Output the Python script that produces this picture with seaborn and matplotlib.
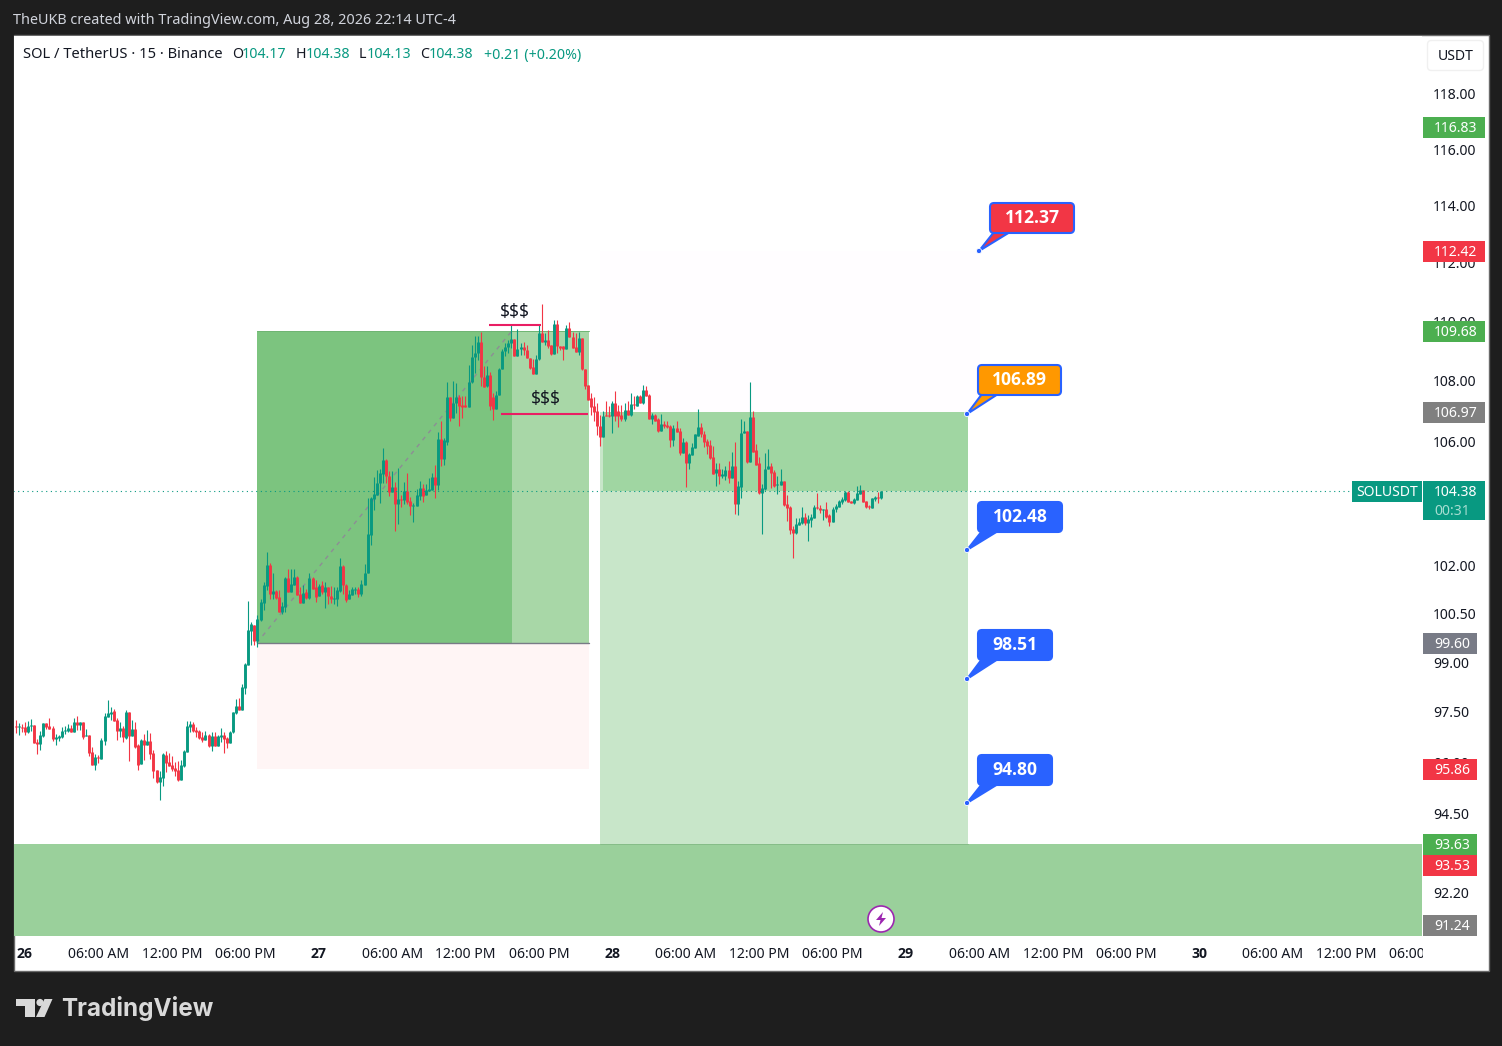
import numpy as np
import pandas as pd
import seaborn as sns
import matplotlib
matplotlib.use("Agg")
import matplotlib.pyplot as plt
from matplotlib.patches import Rectangle, FancyBboxPatch, Polygon, Circle
from matplotlib.transforms import Affine2D

opens = [
97.07,97.05,97.06,97.05,96.90,97.08,97.11,96.60,96.55,96.78,
97.17,97.08,97.02,96.70,96.72,96.75,96.93,96.93,97.02,96.90,
97.20,97.11,97.20,96.78,96.81,96.30,95.91,96.15,96.09,96.64,
97.36,97.44,97.53,97.26,96.93,97.02,96.72,97.50,96.78,96.99,
96.51,95.94,96.66,96.51,96.63,96.27,95.76,95.40,95.52,96.21,
96.00,95.91,95.82,95.76,95.46,95.88,96.30,97.05,97.14,96.96,
96.93,96.75,96.66,96.81,96.48,96.78,96.48,96.75,96.81,96.72,
96.57,96.90,97.47,97.68,97.56,98.22,98.92,99.97,100.16,99.67,
100.32,100.84,101.36,102.03,101.11,101.20,101.02,100.56,100.71,101.60,
101.17,101.39,101.66,101.11,100.84,101.17,100.99,101.63,101.32,101.05,
101.39,101.17,101.32,101.05,100.96,100.96,101.20,102.00,101.39,100.96,
101.08,101.24,101.28,101.11,101.39,101.76,102.96,104.12,104.25,104.64,
104.93,105.38,104.86,104.35,104.51,103.96,104.12,104.09,104.38,104.06,
103.90,103.90,104.22,104.48,104.25,104.38,104.41,104.83,104.57,106.08,
105.41,105.98,107.46,106.76,107.26,107.46,107.20,107.20,107.11,107.96,
108.80,108.92,109.30,108.12,107.81,108.20,107.46,107.07,107.51,108.39,
109.00,109.13,109.26,109.40,108.83,109.06,109.13,109.03,108.77,108.47,
108.23,108.73,109.60,109.30,109.37,109.20,108.90,109.90,109.17,109.17,
109.06,109.76,109.46,109.13,108.97,109.43,108.40,107.87,107.43,107.17,
107.00,106.50,106.13,106.87,106.87,106.83,107.27,107.00,106.87,106.73,
107.03,106.87,107.23,107.17,107.50,107.27,107.70,107.53,106.72,106.85,
106.72,106.32,106.55,106.52,106.49,106.03,106.42,106.32,105.60,105.96,
105.28,105.54,105.77,106.16,106.45,106.22,106.00,105.86,105.47,104.95,
105.11,104.88,104.88,105.05,104.79,105.18,103.97,104.52,106.26,106.32,
105.31,106.78,105.70,105.28,104.33,104.46,105.08,105.18,105.01,104.59,
104.59,104.69,103.97,103.87,103.15,103.05,103.28,103.35,103.54,103.35,
103.44,103.51,103.87,103.84,103.77,103.80,103.61,103.38,103.80,103.87,
104.03,104.10,104.36,104.07,104.00,104.10,104.30,104.43,104.07,103.90,
103.84,104.13,104.20,104.17]

closes = [
97.05,97.07,97.02,96.90,97.08,97.10,96.56,96.55,96.81,97.17,
97.05,96.99,96.69,96.74,96.78,96.93,96.96,97.02,96.90,97.20,
97.11,97.20,96.75,96.81,96.27,95.91,96.15,96.12,96.66,97.38,
97.47,97.50,97.23,96.93,97.02,96.75,97.50,96.78,96.99,96.45,
95.91,96.66,96.51,96.63,96.24,95.73,95.40,95.55,96.24,95.97,
95.88,95.79,95.73,95.46,95.91,96.33,97.08,97.14,96.93,96.90,
96.72,96.66,96.81,96.48,96.78,96.48,96.78,96.81,96.69,96.57,
96.90,97.50,97.68,97.56,98.25,98.94,100.00,100.19,99.67,100.34,
100.87,101.39,102.03,101.11,101.20,100.99,100.56,100.74,101.60,101.17,
101.42,101.66,101.08,100.84,101.14,100.99,101.63,101.28,101.02,101.36,
101.17,101.32,101.05,100.96,100.99,101.24,102.00,101.39,100.93,101.11,
101.28,101.28,101.11,101.42,101.76,103.00,104.15,104.28,104.64,104.96,
105.38,104.86,104.35,104.51,103.96,104.12,104.09,104.38,104.03,103.90,
103.93,104.25,104.48,104.22,104.41,104.45,104.83,104.57,106.08,105.41,
106.03,107.46,106.76,107.26,107.46,107.15,107.12,107.11,107.96,108.80,
108.92,109.30,108.12,107.79,108.20,107.15,107.07,107.51,108.39,109.00,
109.13,109.26,109.40,108.83,109.06,109.13,109.03,108.77,108.43,108.23,
108.73,109.60,109.30,109.37,109.17,108.90,109.90,109.17,109.10,109.06,
109.76,109.46,109.10,108.97,109.43,108.40,107.83,107.37,107.13,106.97,
106.50,106.13,106.83,106.83,106.83,107.27,106.83,106.83,106.73,107.03,
106.87,107.23,107.20,107.50,107.27,107.70,107.50,106.72,106.85,106.65,
106.32,106.55,106.49,106.45,106.03,106.42,106.29,105.60,105.96,105.28,
105.57,105.80,106.22,106.45,106.22,105.96,105.83,105.44,104.92,105.11,
104.88,104.92,105.05,104.79,105.18,103.97,104.56,106.26,106.32,105.31,
106.78,105.64,105.21,104.33,104.49,105.11,105.18,104.98,104.56,104.62,
104.69,103.94,103.84,103.12,103.05,103.31,103.38,103.54,103.35,103.48,
103.54,103.87,103.84,103.77,103.80,103.54,103.38,103.80,103.90,104.07,
104.13,104.36,104.03,104.00,104.13,104.33,104.43,104.03,103.87,103.87,
104.16,104.20,104.16,104.38]

highs = [
97.26,97.18,97.14,97.20,97.23,97.29,97.11,96.69,96.93,97.17,
97.17,97.32,97.08,96.84,96.81,97.05,97.08,97.14,97.11,97.32,
97.38,97.21,97.20,96.99,96.81,96.45,96.24,96.21,96.72,97.46,
97.86,97.65,97.59,97.32,97.20,97.08,97.56,97.50,97.26,97.20,
96.54,96.69,96.84,96.96,96.87,96.36,95.76,95.73,96.27,96.33,
96.27,96.18,96.00,96.03,96.06,96.36,97.23,97.23,97.20,97.05,
96.96,96.90,96.93,96.84,96.90,96.90,96.81,97.02,96.90,96.75,
96.93,97.50,97.89,97.92,98.34,98.97,100.90,100.25,100.16,100.47,
100.96,101.48,102.42,102.09,101.77,101.24,101.24,100.87,101.66,101.91,
101.91,101.91,101.69,101.32,101.39,101.28,101.78,101.66,101.55,101.42,
101.51,101.48,101.32,101.36,101.32,101.32,102.25,102.03,101.42,101.25,
101.32,101.32,101.32,101.55,102.06,104.15,104.18,104.83,105.05,105.09,
105.77,105.41,105.02,105.02,104.67,105.12,104.25,104.67,104.96,104.19,
104.00,104.45,104.70,104.60,104.60,104.80,104.96,105.22,106.31,106.67,
106.10,107.94,107.46,107.98,107.92,107.53,107.50,107.50,108.53,109.20,
109.50,109.50,109.63,108.50,108.50,108.28,107.59,107.64,108.42,109.05,
109.25,109.37,109.92,109.40,109.75,109.25,109.30,109.20,108.77,108.73,
108.87,109.92,110.59,109.59,109.70,109.20,110.03,110.03,109.17,109.17,
109.86,109.98,109.64,109.59,109.64,109.43,108.40,107.87,107.59,107.46,
107.26,106.87,107.00,107.31,107.15,107.31,107.64,107.20,107.20,107.26,
107.31,107.59,107.48,107.53,107.53,107.87,107.83,107.57,106.93,106.88,
106.77,106.88,106.68,106.68,106.52,106.52,106.65,106.44,106.09,106.00,
105.63,105.93,106.22,107.07,106.61,106.32,106.06,106.03,105.83,105.28,
105.28,105.08,105.18,105.37,105.64,105.96,104.72,106.72,106.68,106.32,
107.96,107.00,105.90,105.50,104.62,105.60,105.73,105.28,105.05,104.88,
105.11,104.72,104.26,103.90,103.25,103.51,103.51,103.87,103.67,103.61,
103.64,103.94,104.33,103.94,103.80,104.03,103.64,103.87,103.97,104.10,
104.20,104.39,104.39,104.07,104.16,104.56,104.59,104.43,104.07,103.94,
104.16,104.23,104.36,104.38]

lows = [
96.86,96.81,96.90,96.82,96.86,96.94,96.56,96.24,96.36,96.74,
96.98,96.99,96.64,96.51,96.64,96.72,96.84,96.90,96.90,96.90,
96.96,96.96,96.69,96.78,96.18,95.91,95.76,95.97,96.09,96.51,
97.36,97.26,97.23,96.66,96.75,96.60,96.69,96.03,96.78,96.42,
95.76,95.94,96.06,96.51,96.09,95.52,95.37,94.89,95.28,95.70,
95.88,95.73,95.58,95.43,95.46,95.85,96.30,96.90,96.90,96.75,
96.69,96.60,96.66,96.45,96.33,96.48,96.48,96.60,96.27,96.42,
96.57,96.87,97.44,97.56,97.56,98.04,98.92,99.54,99.54,99.48,
100.29,100.62,101.24,100.96,100.96,100.96,100.56,100.50,100.56,101.17,
101.17,101.39,101.08,100.84,100.84,100.96,100.96,101.28,100.87,101.05,
101.11,100.69,100.81,100.84,100.81,100.74,101.17,101.11,100.87,100.96,
101.08,101.11,101.02,101.05,101.39,101.76,102.67,103.77,104.25,103.99,
104.64,104.64,104.22,104.35,103.10,103.33,103.87,103.96,103.96,103.60,
103.40,103.90,104.09,104.03,104.25,104.38,104.41,104.15,104.41,105.19,
105.22,105.87,106.67,106.76,106.92,106.50,106.76,107.11,107.11,107.92,
108.26,108.70,107.81,107.79,107.79,107.03,106.70,107.07,107.51,108.39,
108.81,108.92,109.09,108.81,108.83,108.87,108.87,108.75,108.40,108.23,
108.23,108.70,109.30,109.20,109.09,108.87,108.90,108.92,109.03,108.68,
109.06,109.46,109.10,108.97,108.87,108.37,107.72,107.37,106.87,106.65,
106.20,105.84,106.13,106.83,106.81,106.26,106.65,106.46,106.65,106.65,
106.87,106.83,107.06,107.17,107.26,107.23,107.50,106.72,106.55,106.65,
106.29,106.32,106.44,106.44,105.80,105.83,106.29,105.54,105.60,104.52,
105.11,105.54,105.77,106.16,106.13,105.80,105.57,105.41,104.92,104.56,
104.62,104.79,104.75,104.65,104.79,103.64,103.61,104.16,106.26,105.28,
105.31,105.64,105.21,104.30,102.99,104.43,105.08,104.49,104.52,104.30,
104.59,103.90,103.41,102.99,102.24,102.99,103.28,103.31,103.28,102.79,
103.22,103.51,103.80,103.67,103.44,103.51,103.25,103.38,103.71,103.87,
103.97,104.07,104.03,104.00,103.97,104.10,104.30,104.03,103.84,103.80,
103.84,104.07,104.00,104.13]

y_ticks = [118.0, 116.0, 114.0, 112.0, 110.0, 108.0, 106.0, 102.0, 100.5, 99.0, 97.5, 96.0, 94.5, 92.2]
time_ticks = ["26", "06:00 AM", "12:00 PM", "06:00 PM", "27", "06:00 AM", "12:00 PM", "06:00 PM",
              "28", "06:00 AM", "12:00 PM", "06:00 PM", "29", "06:00 AM", "12:00 PM", "06:00 PM",
              "30", "06:00 AM", "12:00 PM", "06:00 AM"]
last_price = 104.38

UP, DOWN = "#089981", "#f23645"
BLUE = "#2962ff"
W, H = 1502, 1046
BOLD = "Open Sans"

sns.set_theme(style="white")
plt.rcParams["font.family"] = ["Noto Sans", "DejaVu Sans"]

fig = plt.figure(figsize=(W / 100, H / 100), dpi=100, facecolor="#1e1e1e")
px = Affine2D().scale(1 / W, -1 / H).translate(0, 1) + fig.transFigure

fig.add_artist(Rectangle((13.5, 34.5), 1475, 936, transform=px, facecolor="white",
                         edgecolor="#6a6a6a", linewidth=1, zorder=-1))

ax = fig.add_axes([14 / W, 1 - 936 / H, (1422 - 14) / W, (936 - 36) / H], facecolor="white")
ax.set_yscale("log")

n = len(closes)
idx = np.arange(n)
direction = np.where(np.array(closes) >= np.array(opens), "up", "down")
wicks = pd.DataFrame({"candle": np.r_[idx, idx], "x": np.r_[idx, idx],
                      "price": np.r_[highs, lows], "dir": np.r_[direction, direction]})
bodies = pd.DataFrame({"candle": np.r_[idx, idx], "x": np.r_[idx, idx],
                       "price": np.r_[opens, closes], "dir": np.r_[direction, direction]})
wicks = wicks.sort_values("candle", kind="stable")
bodies = bodies.sort_values("candle", kind="stable")
palette = {"up": UP, "down": DOWN}
sns.lineplot(data=wicks, x="x", y="price", units="candle", estimator=None, hue="dir", palette=palette,
             sort=False, legend=False, linewidth=0.8, solid_capstyle="butt", zorder=4, ax=ax)
sns.lineplot(data=bodies, x="x", y="price", units="candle", estimator=None, hue="dir", palette=palette,
             sort=False, legend=False, linewidth=2.1, solid_capstyle="butt", zorder=4, ax=ax)

ax.set_xlim(-0.6, 459.7)
ax.set_ylim(90.98, 120.13)
ax.set_xlabel("")
ax.set_ylabel("")
for s in ax.spines.values():
    s.set_visible(False)
ax.grid(False)


def zone(x0, x1, p0, p1, color, z=1, **kw):
    ax.add_patch(Rectangle((x0, p0), x1 - x0, p1 - p0, facecolor=color, edgecolor="none", zorder=z, **kw))


# position tools and zones (candle index, price)
zone(190.9, 315.2, 106.97, 112.42, "#fffdff")
zone(78.8, 187.4, 95.80, 99.60, "#fff5f5")
zone(78.8, 187.4, 99.60, 109.68, "#a8d7a7")
zone(78.8, 162.2, 99.60, 109.68, "#7cc47f", z=1.1)
zone(191.0, 311.3, 93.60, 106.97, "#c8e6c9")
zone(192.0, 311.3, 104.38, 106.97, "#a0d6a2", z=1.1)
zone(-1, 460, 90.9, 93.60, "#9ad09b", z=1.2)
ax.plot([78.8, 187.4], [99.60, 99.60], color="#787b86", lw=1, zorder=2)
ax.plot([78.8, 187.4], [109.68, 109.68], color="#6fb573", lw=0.7, zorder=2)
ax.plot([191.0, 311.3], [93.60, 93.60], color="#86bd88", lw=0.7, zorder=2)
ax.plot([78.8, 162.2], [99.60, 109.68], color="#8d8d95", lw=1, ls=(0, (3, 3.5)), zorder=3)

# last price line
ax.plot([-1, 437], [last_price, last_price], color=UP, lw=0.8, ls=(0, (1, 3.2)), zorder=5)

# liquidity marks
ax.plot([154.6, 171.6], [109.87, 109.87], color="#e91e63", lw=1.5, zorder=5, solid_capstyle="butt")
ax.plot([158.5, 186.9], [106.9, 106.9], color="#e91e63", lw=1.5, zorder=5, solid_capstyle="butt")
ax.text(163.3, 110.33, "$$$", ha="center", va="center", fontsize=12.5, color="#131722", zorder=6)
ax.text(173.4, 107.38, "$$$", ha="center", va="center", fontsize=12.5, color="#131722", zorder=6)

# axes ticks
ax.yaxis.tick_right()
ax.set_yticks(y_ticks)
ax.set_yticklabels([f"{v:.2f}" for v in y_ticks])
ax.minorticks_off()
ax.tick_params(axis="y", length=0, pad=8, labelsize=10.1, labelcolor="#131722")
xt = [3 + 24 * k for k in range(len(time_ticks))]
ax.set_xticks(xt)
ax.set_xticklabels(time_ticks)
ax.tick_params(axis="x", length=0, pad=8, labelsize=10.1, labelcolor="#131722")
for lab, t in zip(ax.get_xticklabels(), time_ticks):
    if len(t) == 2:
        lab.set_fontfamily(BOLD)
        lab.set_fontweight("bold")
fig.add_artist(Rectangle((1423, 937), 65, 33, transform=px, facecolor="white", edgecolor="none", zorder=1))


def text(x, y, s, color="#131722", size=14, ha="left", va="center", weight="normal", family=None, z=7):
    kw = {"family": family} if family else {}
    fig.text(0, 0, s, transform=px, color=color, fontsize=size * 0.72, ha=ha, va=va, weight=weight, zorder=z, **kw).set_position((x, y + 1.5))


def tag(y, s, color, right=1485):
    fig.add_artist(Rectangle((1423, y - 10.5), right - 1423, 21, transform=px, facecolor=color, edgecolor="none", zorder=5))
    text(1434, y, s, color="white")


tag(127, "116.83", "#4caf50")
tag(251, "112.42", DOWN)
tag(331, "109.68", "#4caf50")
tag(412, "106.97", "#808080")
tag(643, "99.60", "#787b86", 1477)
tag(769, "95.86", DOWN, 1477)
tag(844, "93.63", "#4caf50", 1477)
tag(865, "93.53", DOWN, 1477)
tag(925, "91.24", "#808080", 1477)

fig.add_artist(Rectangle((1423, 481), 62, 39, transform=px, facecolor=UP, edgecolor="none", zorder=5))
text(1434, 491, "104.38", color="white")
text(1434, 510, "00:31", color="#a8ded2")
fig.add_artist(Rectangle((1352, 481), 70, 21, transform=px, facecolor=UP, edgecolor="none", zorder=5))
text(1356, 491, "SOLUSDT", color="white")

# USDT button
fig.add_artist(FancyBboxPatch((1427.5, 40.5), 56, 30, boxstyle="round,pad=0,rounding_size=4", transform=px,
                              facecolor="white", edgecolor="#f0f0f0", linewidth=1, zorder=5))
text(1456, 55, "USDT", ha="center")

# header + legend
text(13, 19.5, "TheUKB created with TradingView.com, Aug 28, 2026 22:14 UTC-4", color="#d1d4dc", size=14.42)
text(23, 53.5, "SOL / TetherUS · 15 · Binance", size=14.7)
for x, s, c in [(232, "O", "#131722"), (242, "104.17", UP), (296, "H", "#131722"), (306, "104.38", UP),
                (359, "L", "#131722"), (367, "104.13", UP), (420, "C", "#131722"), (429, "104.38", UP),
                (484, "+0.21 (+0.20%)", UP)]:
    text(x, 53.5, s, color=c, size=14.2)


def callout(x0, y0, x1, y1, tx, ty, s, color):
    fig.add_artist(Polygon([(x0 + 4, y1 - 1), (tx, ty), (x0 + 20, y1 - 1)], closed=True, transform=px,
                           facecolor=color, edgecolor=BLUE, linewidth=1.5, zorder=5))
    fig.add_artist(FancyBboxPatch((x0, y0), x1 - x0, y1 - y0, boxstyle="round,pad=0,rounding_size=4", transform=px,
                                  facecolor=color, edgecolor=BLUE, linewidth=1.5, zorder=5.1))
    fig.add_artist(Circle((tx, ty), 2.6, transform=px, facecolor=BLUE, edgecolor="white", linewidth=0.6, zorder=5.2))
    text((x0 + x1) / 2, (y0 + y1) / 2 - 1.5, s, color="white", size=17.5, ha="center", weight="bold", family=BOLD)


callout(990, 203, 1074, 233, 979, 251, "112.37", DOWN)
callout(978, 365, 1061, 395, 967, 414, "106.89", "#ff9800")
callout(978, 502, 1062, 532, 967, 550, "102.48", BLUE)
callout(978, 630, 1052, 660, 967, 679, "98.51", BLUE)
callout(978, 755, 1052, 785, 967, 803, "94.80", BLUE)

# lightning badge
fig.add_artist(Circle((881, 919), 13, transform=px, facecolor="white", edgecolor="#9c27b0", linewidth=1.2, zorder=5))
fig.add_artist(Polygon([(883, 912), (876, 920), (880.5, 920), (879, 926), (886, 918), (881.5, 918)], closed=True,
                       transform=px, facecolor="#9c27b0", edgecolor="none", zorder=5.1))

# logo
LOGO = "#d9d9d9"
fig.add_artist(Polygon([(15.5, 999), (35, 999), (35, 1017), (25, 1017), (25, 1006), (15.5, 1006)], closed=True,
                       transform=px, facecolor=LOGO, edgecolor="none", zorder=5))
fig.add_artist(Circle((40, 1002.5), 3.6, transform=px, facecolor=LOGO, edgecolor="none", zorder=5))
fig.add_artist(Polygon([(44.5, 999), (52.5, 999), (44.5, 1017), (36, 1017)], closed=True,
                       transform=px, facecolor=LOGO, edgecolor="none", zorder=5))
text(61, 1007, "TradingView", color=LOGO, size=24.2, weight="bold", family="Inter")

fig.savefig("out.png", dpi=100, facecolor=fig.get_facecolor())
